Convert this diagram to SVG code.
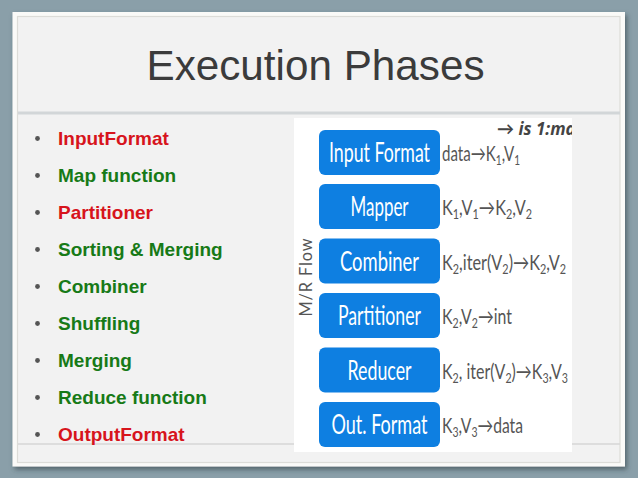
<svg xmlns="http://www.w3.org/2000/svg" width="638" height="478" viewBox="0 0 638 478">
<defs>
<style>
.title{font-family:"Liberation Sans",Arial,sans-serif;font-size:42px;fill:#3b3b3b;text-anchor:middle}
.bul{font-family:"Liberation Sans",Arial,sans-serif;font-size:19px;font-weight:bold}
.red{fill:#d7141c}
.grn{fill:#177a17}
.dot{fill:#555}
.box{fill:#0e7fe1}
.bt{font-family:Lato,"Open Sans",sans-serif;font-size:26px;fill:#ffffff;text-anchor:middle}
.lbl{font-family:Lato,"Open Sans",sans-serif;font-size:21px;fill:#555}
.sub{font-size:14px}
.side{font-family:Lato,"Open Sans",sans-serif;font-size:18px;fill:#555;letter-spacing:1px}
.note{font-family:"Open Sans",Lato,sans-serif;font-size:17px;font-weight:bold;font-style:italic;fill:#444}
</style>
<filter id="sh" x="-5%" y="-5%" width="110%" height="110%">
<feDropShadow dx="2" dy="3" stdDeviation="2.5" flood-color="#2a3a42" flood-opacity="0.6"/>
</filter>
<clipPath id="pc"><rect x="294" y="118" width="278" height="334"/></clipPath>
</defs>
<rect x="0" y="0" width="638" height="478" fill="#8a9fa9"/>
<g id="card">
<rect x="12.5" y="12" width="612.5" height="454.5" fill="#fafaf8" filter="url(#sh)"/>
<rect x="17.5" y="16.5" width="602.5" height="446" fill="#f2f2f2" stroke="#dcdcd8" stroke-width="1.2"/>
<rect x="18" y="111.5" width="602" height="3" fill="#d2d6d8"/>
<line x1="18" y1="444" x2="620" y2="444" stroke="#d6d6d6" stroke-width="1.5"/>
</g>
<g id="title"><text class="title" x="315.5" y="80" textLength="338" lengthAdjust="spacingAndGlyphs">Execution Phases</text></g>
<g id="bullets">
<circle class="dot" cx="37.5" cy="138.5" r="2.4"/><text class="bul red" x="58" y="145">InputFormat</text>
<circle class="dot" cx="37.5" cy="175.5" r="2.4"/><text class="bul grn" x="58" y="182">Map function</text>
<circle class="dot" cx="37.5" cy="212.5" r="2.4"/><text class="bul red" x="58" y="219">Partitioner</text>
<circle class="dot" cx="37.5" cy="249.5" r="2.4"/><text class="bul grn" x="58" y="256">Sorting &amp; Merging</text>
<circle class="dot" cx="37.5" cy="286.5" r="2.4"/><text class="bul grn" x="58" y="293">Combiner</text>
<circle class="dot" cx="37.5" cy="323.5" r="2.4"/><text class="bul grn" x="58" y="330">Shuffling</text>
<circle class="dot" cx="37.5" cy="360.5" r="2.4"/><text class="bul grn" x="58" y="367">Merging</text>
<circle class="dot" cx="37.5" cy="397.5" r="2.4"/><text class="bul grn" x="58" y="404">Reduce function</text>
<circle class="dot" cx="37.5" cy="434.5" r="2.4"/><text class="bul red" x="58" y="441">OutputFormat</text>
</g>
<g id="panel">
<rect x="294" y="118" width="278" height="334" fill="#ffffff"/>
<text class="note" x="497" y="134.5" clip-path="url(#pc)">→ is 1:ma</text>
<text class="side" transform="translate(312,277) rotate(-90)" text-anchor="middle" textLength="79" lengthAdjust="spacingAndGlyphs">M/R Flow</text>
</g>
<g id="input-format">
<rect class="box" x="319" y="130" width="121" height="45" rx="6"/>
<text class="bt" x="379.5" y="162" textLength="101" lengthAdjust="spacingAndGlyphs">Input Format</text>
<text class="lbl" x="442" y="161" textLength="78" lengthAdjust="spacingAndGlyphs">data→K<tspan class="sub" dy="4">1</tspan><tspan dy="-4">,V</tspan><tspan class="sub" dy="4">1</tspan></text>
</g>
<g id="mapper">
<rect class="box" x="319" y="184" width="121" height="45" rx="6"/>
<text class="bt" x="379.5" y="216" textLength="58" lengthAdjust="spacingAndGlyphs">Mapper</text>
<text class="lbl" x="442" y="215" textLength="90" lengthAdjust="spacingAndGlyphs">K<tspan class="sub" dy="4">1</tspan><tspan dy="-4">,V</tspan><tspan class="sub" dy="4">1</tspan><tspan dy="-4">→K</tspan><tspan class="sub" dy="4">2</tspan><tspan dy="-4">,V</tspan><tspan class="sub" dy="4">2</tspan></text>
</g>
<g id="combiner">
<rect class="box" x="319" y="238.5" width="121" height="45" rx="6"/>
<text class="bt" x="379.5" y="270.5" textLength="79" lengthAdjust="spacingAndGlyphs">Combiner</text>
<text class="lbl" x="442" y="269.5" textLength="124" lengthAdjust="spacingAndGlyphs">K<tspan class="sub" dy="4">2</tspan><tspan dy="-4">,iter(V</tspan><tspan class="sub" dy="4">2</tspan><tspan dy="-4">)→K</tspan><tspan class="sub" dy="4">2</tspan><tspan dy="-4">,V</tspan><tspan class="sub" dy="4">2</tspan></text>
</g>
<g id="partitioner">
<rect class="box" x="319" y="293" width="121" height="45" rx="6"/>
<text class="bt" x="379.5" y="325" textLength="83" lengthAdjust="spacingAndGlyphs">Partitioner</text>
<text class="lbl" x="442" y="324" textLength="70" lengthAdjust="spacingAndGlyphs">K<tspan class="sub" dy="4">2</tspan><tspan dy="-4">,V</tspan><tspan class="sub" dy="4">2</tspan><tspan dy="-4">→int</tspan></text>
</g>
<g id="reducer">
<rect class="box" x="319" y="347.5" width="121" height="45" rx="6"/>
<text class="bt" x="379.5" y="379.5" textLength="64" lengthAdjust="spacingAndGlyphs">Reducer</text>
<text class="lbl" x="442" y="378.5" textLength="126" lengthAdjust="spacingAndGlyphs">K<tspan class="sub" dy="4">2</tspan><tspan dy="-4">, iter(V</tspan><tspan class="sub" dy="4">2</tspan><tspan dy="-4">)→K</tspan><tspan class="sub" dy="4">3</tspan><tspan dy="-4">,V</tspan><tspan class="sub" dy="4">3</tspan></text>
</g>
<g id="out-format">
<rect class="box" x="319" y="402" width="121" height="45" rx="6"/>
<text class="bt" x="379.5" y="434" textLength="96" lengthAdjust="spacingAndGlyphs">Out. Format</text>
<text class="lbl" x="442" y="433" textLength="81" lengthAdjust="spacingAndGlyphs">K<tspan class="sub" dy="4">3</tspan><tspan dy="-4">,V</tspan><tspan class="sub" dy="4">3</tspan><tspan dy="-4">→data</tspan></text>
</g>
<g id="connectors"></g>
</svg>
